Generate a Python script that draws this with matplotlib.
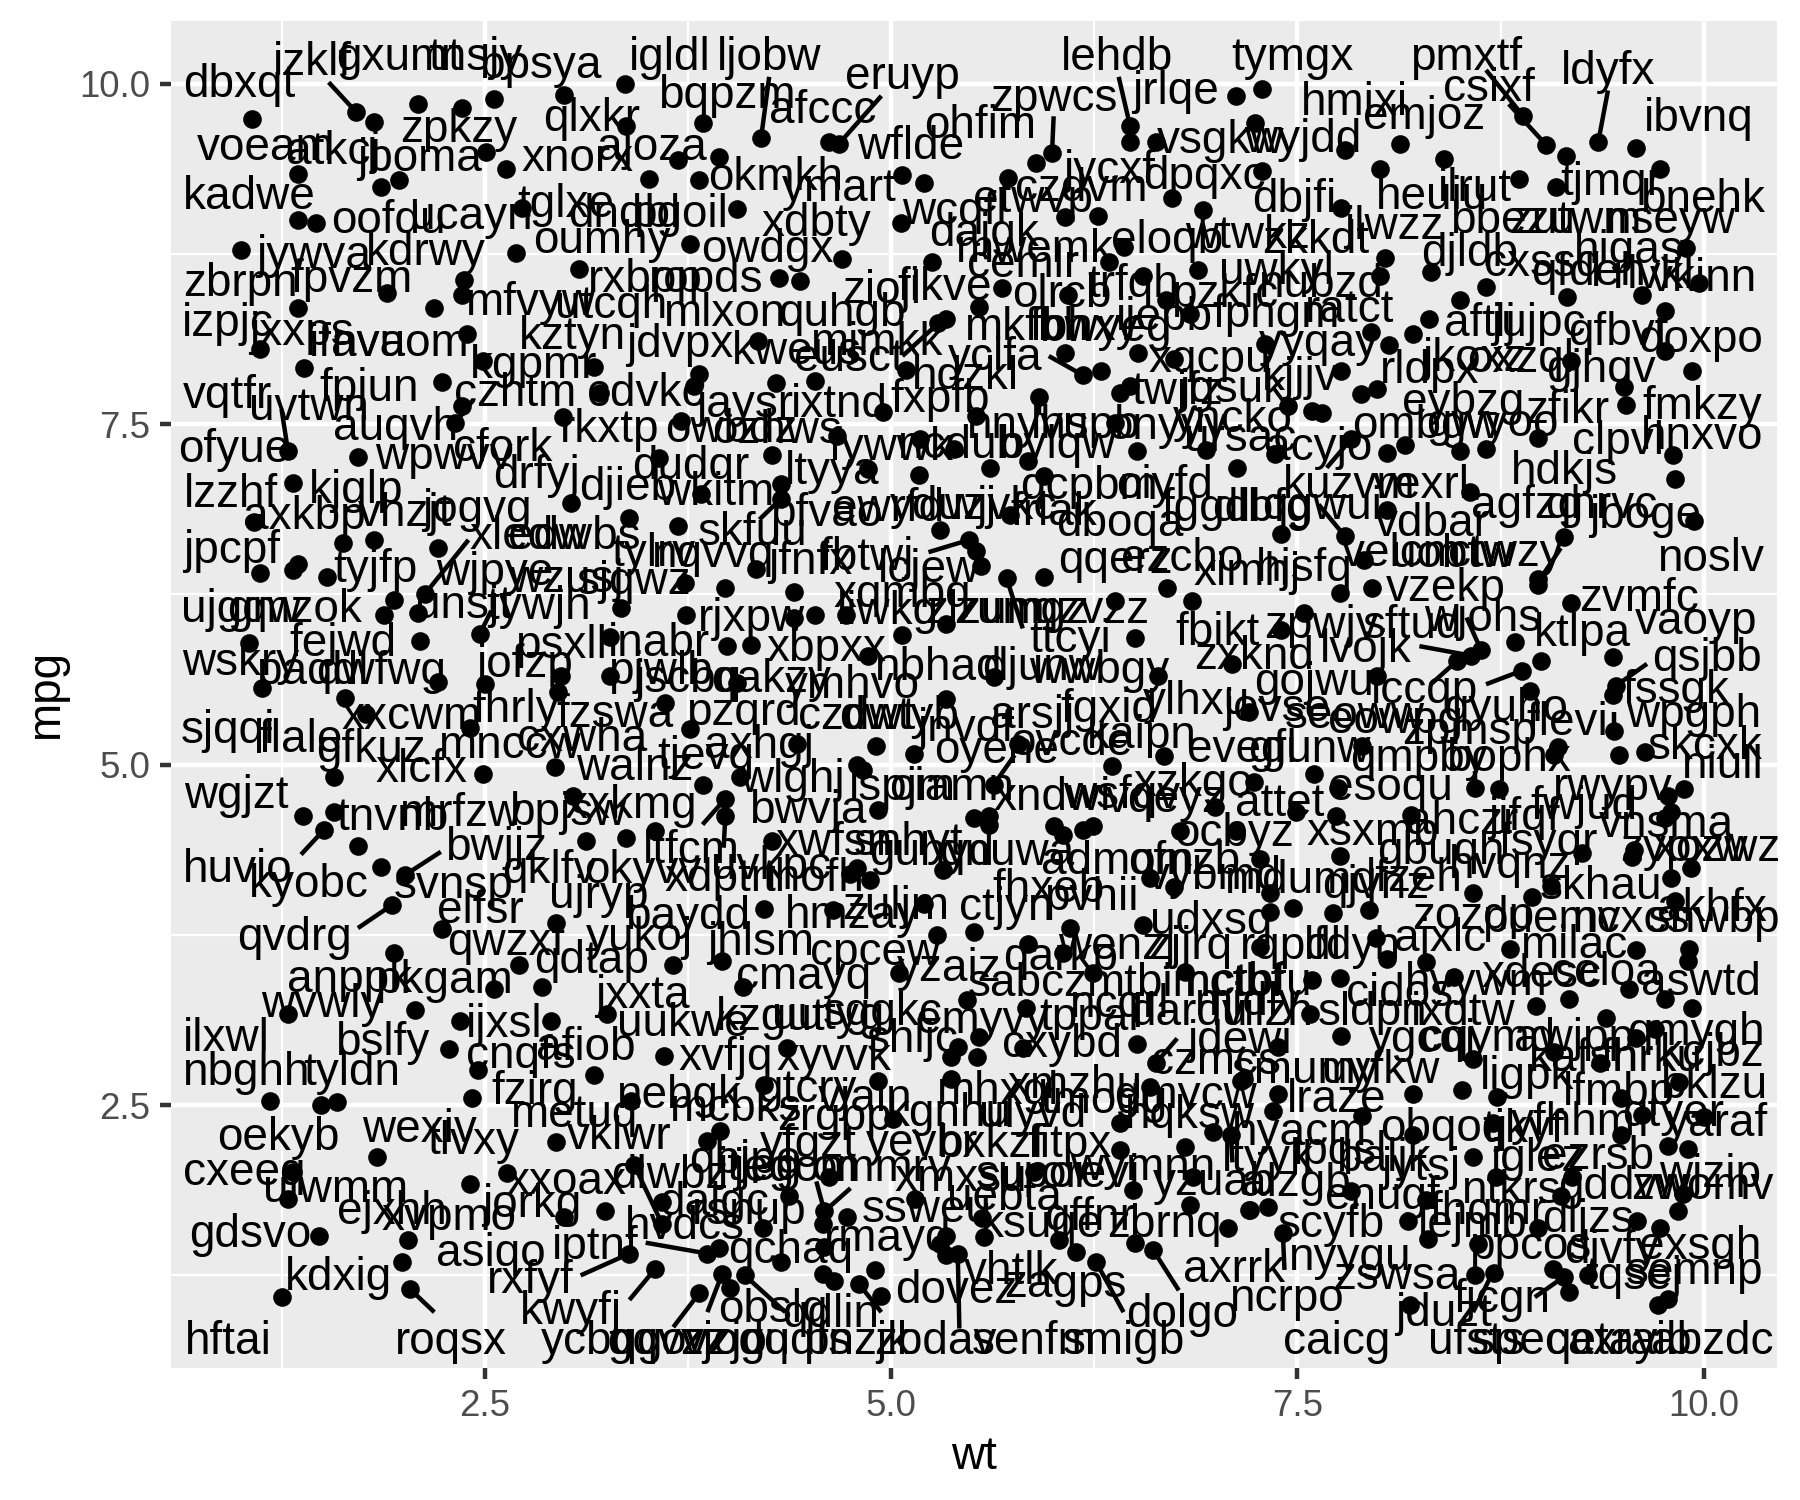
import matplotlib
matplotlib.use("Agg")
import matplotlib.pyplot as plt

plt.rcParams['font.family'] = ['Liberation Sans', 'DejaVu Sans']

# points (wt, mpg)
points_top = [
    (1.07,9.74),(1.71,9.79),(1.82,9.72),(2.09,9.85),(2.36,9.82),(2.56,9.89),(2.99,9.92),(3.36,10.00),
    (3.37,9.69),(3.84,9.71),(1.35,9.34),(2.51,9.50),(2.63,9.37),(1.97,9.29),(1.86,9.24),(3.51,9.30),
    (3.69,9.44),(3.94,9.46),(3.82,9.29),(1.35,9.00),(1.46,8.98),(2.73,9.09),(3.76,8.82),(1.00,8.78),
    (2.69,8.76),(3.08,8.64),(2.37,8.56),(2.36,8.45),(1.90,8.46),(2.19,8.35),(1.35,8.35),(2.39,8.16),
    (1.12,8.05),(2.49,7.96),(1.39,7.91),(3.17,7.92),(3.82,7.87),(3.79,7.78),(2.24,7.81),(3.21,7.73),
    (2.36,7.63),(2.32,7.51),(2.98,7.55),(3.71,7.52),(1.29,7.30),(1.72,7.26),(3.57,7.25),(1.32,7.07),
    (4.20,9.60),(4.62,9.57),(4.68,9.56),(5.07,9.33),(5.20,9.27),(4.05,9.08),(5.06,8.98),(5.99,9.49),
    (5.89,9.42),(5.72,9.31),(6.47,9.69),(6.47,9.57),(6.63,9.57),(7.12,9.91),(7.28,9.96),(7.24,9.71),
    (6.73,9.16),(6.92,9.07),(6.07,9.02),(6.27,9.03),(6.43,8.80),(6.34,8.69),(6.89,8.63),(5.25,8.69),
    (4.70,8.71),(4.31,8.57),(4.44,8.55),(5.68,8.50),(6.09,8.45),(6.55,8.59),(5.54,8.36),(6.69,8.41),
    (6.84,8.31),(5.34,8.27),(5.29,8.24),(4.18,8.11),(6.07,8.02),(6.52,8.02),(6.74,7.98),(5.09,7.90),
    (6.18,7.86),(6.29,7.89),(4.29,7.80),(4.53,7.82),(6.47,7.78),(6.41,7.73),(5.91,7.70),(4.95,7.59),
    (5.52,7.56),(6.38,7.51),(4.67,7.41),(5.18,7.39),(5.39,7.32),(5.84,7.23),(6.51,7.30),(6.94,7.31),
    (4.27,7.27),(4.86,7.17),(5.61,7.18),(5.17,7.13),(5.94,7.12),(7.13,7.18),(4.32,7.06),(4.32,6.95),
    (7.28,9.36),(7.79,9.51),(8.13,9.56),(8.40,9.45),(8.01,9.37),(8.89,9.76),(9.03,9.55),(9.15,9.47),
    (9.35,9.57),(9.58,9.53),(9.73,9.37),(8.86,9.30),(9.09,9.24),(7.77,9.09),(9.89,8.79),(8.04,8.72),
    (8.01,8.59),(8.32,8.62),(8.66,8.51),(8.50,8.41),(9.16,8.43),(9.62,8.45),(9.97,8.54),(9.76,8.33),
    (8.31,8.27),(8.21,8.16),(7.95,8.18),(8.06,8.08),(7.30,8.09),(9.76,8.04),(9.18,7.96),(9.93,7.89),
    (7.77,7.89),(7.99,7.76),(7.89,7.72),(9.51,7.77),(9.52,7.64),(7.44,7.63),(7.59,7.60),(7.65,7.58),
    (7.83,7.39),(8.16,7.35),(7.36,7.28),(8.05,7.29),(8.50,7.30),(8.66,7.32),(8.98,7.40),(9.81,7.27),
    (9.82,7.10),(8.56,7.00),
]

points_mid = [
    (3.03,6.92),(3.83,6.99),(1.08,6.78),(3.39,6.81),(3.69,6.75),(1.63,6.63),(1.82,6.65),(2.21,6.59),
    (1.12,6.41),(1.35,6.47),(1.32,6.43),(1.53,6.38),(3.73,6.33),(3.98,6.30),(1.94,6.21),(2.13,6.25),
    (1.88,6.10),(2.09,6.11),(3.34,6.15),(3.74,6.10),(1.05,5.89),(2.10,5.91),(2.47,5.96),(3.27,5.94),
    (3.99,5.87),(2.21,5.61),(1.13,5.56),(2.50,5.59),(2.97,5.65),(2.95,5.53),(3.27,5.65),(1.64,5.49),
    (1.77,5.37),(2.41,5.27),(3.61,5.45),(3.76,5.26),(2.93,4.98),(1.57,4.91),(2.49,4.93),(3.84,4.85),
    (3.04,4.77),(1.38,4.62),(1.57,4.65),(1.51,4.52),(3.98,4.75),(3.98,4.62),(1.72,4.40),(3.12,4.44),
    (3.37,4.46),(3.55,4.51),(1.86,4.25),(2.01,4.19),(1.93,3.97),(2.94,3.84),(2.24,3.79),
    (5.73,6.83),(5.30,6.72),(5.48,6.65),(5.52,6.57),(5.55,6.46),(4.17,6.44),(5.71,6.37),(5.94,6.38),
    (4.40,6.27),(6.70,6.30),(6.85,6.20),(6.38,6.20),(4.53,6.10),(4.40,6.08),(4.72,6.10),(5.34,6.03),
    (5.07,5.95),(6.50,5.93),(4.14,5.88),(4.86,5.80),(5.63,5.64),(7.10,5.74),(6.64,5.65),(4.05,5.60),
    (5.34,5.48),(4.91,5.14),(5.14,5.08),(4.42,5.15),(5.78,5.15),(6.68,5.06),(6.36,4.99),(4.79,5.00),
    (4.83,4.96),(5.63,4.85),(4.07,4.91),(4.92,4.67),(5.51,4.61),(5.60,4.62),(5.60,4.56),(6.00,4.55),
    (6.06,4.48),(6.18,4.52),(6.24,4.55),(6.78,4.51),(6.99,4.69),(4.27,4.44),(4.79,4.24),(4.75,4.20),
    (4.87,4.15),(5.32,4.23),(6.59,4.17),(6.74,4.10),(4.22,3.94),(4.64,3.93),(5.20,3.98),(6.10,3.80),
    (6.55,3.82),
    (9.94,6.79),(8.05,6.87),(7.40,6.69),(7.79,6.68),(9.14,6.67),(7.91,6.50),(8.98,6.36),(8.98,6.32),
    (7.96,6.30),(7.76,6.26),(9.18,6.19),(7.54,6.11),(7.40,5.99),(8.84,5.90),(8.63,5.84),(8.57,5.80),
    (8.48,5.76),(9.44,5.79),(9.00,5.76),(8.88,5.69),(7.99,5.65),(9.46,5.58),(9.44,5.51),(8.93,5.54),
    (7.20,5.39),(9.45,5.25),(7.90,5.14),(9.10,5.13),(9.08,5.07),(9.48,5.07),(9.64,5.09),(7.60,4.93),
    (7.23,4.87),(7.75,4.83),(8.59,4.83),(8.74,4.82),(9.88,4.82),(9.78,4.77),(7.49,4.65),(7.74,4.62),
    (8.20,4.63),(9.80,4.65),(9.76,4.61),(7.12,4.51),(9.25,4.35),(9.57,4.37),(9.56,4.32),(7.27,4.31),
    (7.76,4.33),(9.92,4.24),(9.80,4.17),(7.33,4.06),(8.58,4.06),(8.94,4.03),(9.06,4.11),(7.33,3.92),
    (7.47,3.95),(7.72,3.91),(7.94,3.93),(9.82,4.00),
]

points_low = [
    (1.94,3.62),(2.71,3.53),(3.66,3.53),(3.96,3.56),(2.56,3.35),(2.85,3.37),(2.07,3.20),(1.29,3.17),
    (3.25,3.17),(2.35,3.12),(2.91,3.12),(2.28,2.91),(3.60,2.86),(2.46,2.76),(3.17,2.72),(2.42,2.55),
    (3.40,2.53),(1.18,2.53),(1.49,2.50),(1.59,2.52),(2.94,2.23),(3.87,2.24),(3.95,2.31),(1.84,2.12),
    (2.41,1.92),(2.64,2.00),(3.42,2.06),(1.32,2.01),(1.29,1.81),(2.99,1.68),(3.24,1.72),(3.59,1.79),
    (3.59,1.63),(1.48,1.54),(2.03,1.51),(1.99,1.35),(3.39,1.41),(3.55,1.30),(3.87,1.41),(3.94,1.45),
    (2.04,1.15),(1.25,1.09),(3.96,1.26),(3.82,1.12),
    (5.28,3.75),(5.51,3.77),(5.84,3.68),(6.06,3.62),(5.05,3.47),(6.24,3.47),(6.81,3.48),(4.09,3.37),
    (5.47,3.27),(5.83,3.21),(5.54,3.00),(5.41,2.93),(5.37,2.85),(5.53,2.85),(5.81,2.92),(4.36,2.92),
    (6.51,2.95),(6.63,2.81),(7.17,2.69),(4.22,2.65),(4.92,2.68),(5.37,2.69),(6.59,2.63),(6.41,2.37),
    (5.01,2.40),(6.98,2.30),(7.09,2.28),(6.41,2.17),(6.81,2.19),(5.88,2.01),(4.62,1.97),(6.86,1.97),
    (6.49,1.88),(4.37,1.83),(5.15,1.81),(6.84,1.77),(7.21,1.73),(4.59,1.72),(4.58,1.63),(4.73,1.68),
    (4.21,1.60),(5.56,1.67),(5.57,1.53),(5.34,1.54),(6.03,1.51),(6.50,1.49),(7.07,1.60),(6.61,1.44),
    (6.14,1.42),(6.26,1.35),(4.59,1.46),(5.30,1.48),(5.34,1.40),(5.41,1.41),(4.32,1.35),(4.90,1.29),
    (4.58,1.26),(4.65,1.21),(4.80,1.19),(4.94,1.10),(4.10,1.25),(4.01,1.16),
    (7.98,3.73),(7.27,3.66),(8.05,3.57),(8.29,3.55),(8.81,3.65),(9.58,3.64),(9.91,3.65),(9.90,3.56),
    (7.59,3.42),(7.76,3.43),(8.46,3.44),(9.54,3.35),(9.17,3.28),(9.76,3.28),(8.97,3.23),(9.93,3.21),
    (7.58,3.17),(9.40,3.14),(9.70,3.06),(7.77,3.01),(7.38,2.93),(9.58,2.99),(9.08,2.89),(8.58,2.84),
    (9.36,2.81),(7.15,2.68),(9.85,2.67),(7.38,2.58),(8.21,2.58),(8.51,2.61),(8.73,2.56),(9.49,2.55),
    (7.35,2.46),(7.90,2.42),(9.62,2.43),(10.00,2.41),(8.70,2.37),(8.21,2.28),(9.49,2.28),(9.78,2.20),
    (9.90,2.18),(8.58,2.12),(8.72,1.97),(9.19,1.97),(9.12,1.83),(9.87,1.85),(7.83,1.87),(8.29,1.80),
    (9.84,1.72),(7.20,1.73),(7.32,1.75),(8.18,1.65),(7.41,1.56),(8.30,1.52),(8.98,1.60),(9.59,1.65),
    (9.73,1.60),(8.61,1.48),(9.07,1.30),(9.14,1.24),(9.29,1.25),(9.17,1.13),(8.59,1.25),(8.71,1.27),
    (8.19,1.03),(9.78,1.08),(9.72,1.03),
]

# label text, centre wt, baseline mpg
labels_top = [
    ("dbxqt",0.99,9.90),("izklf",1.44,10.06),("gxumt",1.97,10.10),("tnsjy",2.44,10.10),("bpsya",2.84,10.04),
    ("igldl",3.64,10.10),("bqpzm",3.99,9.82),("qlxkr",3.16,9.65),("voeam",1.15,9.44),("atkcj",1.57,9.41),
    ("jboma",2.10,9.36),("zpkzy",2.34,9.57),("xnorx",3.07,9.36),("ajoza",3.53,9.44),("kadwe",1.05,9.08),
    ("oofdu",1.91,8.90),("ucayn",2.42,8.93),("tglxe",3.00,9.02),("dnqbl",3.36,8.95),("bgoil",3.70,8.95),
    ("oumhy",3.22,8.76),("owdgx",4.24,8.69),("jywva",1.45,8.65),("kdrwy",2.14,8.67),("zbrpn",1.00,8.44),
    ("fpvzm",1.68,8.47),("rxbpp",3.49,8.47),("ropds",3.86,8.47),("mfvyw",2.78,8.30),("utcqh",3.28,8.28),
    ("mlxon",3.97,8.22),("izpjc",0.92,8.15),("jxxps",1.37,8.08),("ifavu",1.72,8.00),("nvaom",1.98,8.00),
    ("kztyn",3.04,8.05),("jdvpx",3.70,7.99),("kgpmr",2.80,7.84),("fpjun",1.79,7.67),("vqtfr",0.92,7.62),
    ("uvtwn",1.42,7.53),("czhtm",2.69,7.63),("cdvkc",3.49,7.63),("rkxtp",3.27,7.37),("auqvh",1.95,7.38),
    ("ofyue",0.96,7.22),("wpwvv",2.25,7.17),("cfork",2.61,7.23),("drfyj",2.82,7.03),("djieb",3.38,6.94),
    ("wkitm",3.92,6.91),("dudqr",3.77,7.10),("jaysr",4.10,7.55),("ixtnd",4.68,7.55),("owbdz",4.02,7.37),
    ("ozhws",4.30,7.36),("ltyya",4.64,7.06),("fywwk",5.00,7.24),("ncdub",5.42,7.25),("bylqw",6.02,7.25),
    ("nnyvu",5.84,7.40),("lhspb",6.20,7.40),("onyyy",6.70,7.39),("yncko",7.10,7.44),("twjfz",6.76,7.65),
    ("jgsuk",7.10,7.66),("fxpfb",5.30,7.59),("hdzkl",5.46,7.76),("yclfa",5.64,7.90),("mkfbh",5.83,8.12),
    ("fbhxy",6.19,8.12),("bwyeg",6.32,8.11),("olrcb",6.05,8.36),("trfqh",6.49,8.43),("ijepb",6.68,8.19),
    ("pzkfc",7.05,8.36),("fphgm",7.37,8.21),("ratct",7.82,8.25),("xqcpu",6.96,7.88),("yyqay",7.63,8.00),
    ("kjjjv",7.52,7.75),("uwkyl",7.37,8.53),("nubzd",7.64,8.43),("wtwkz",7.19,8.79),("zkkdt",7.61,8.76),
    ("eloqb",6.70,8.76),("dpqxc",6.93,9.23),("jycxf",6.34,9.27),("czdvm",6.17,9.14),("etwvp",5.87,9.06),
    ("wcqfl",5.39,8.97),("dajgk",5.57,8.81),("mwemk",5.88,8.69),("cemlr",5.81,8.58),("ziojl",4.94,8.39),
    ("fikve",5.33,8.41),("quhgb",4.70,8.22),("mjmkk",4.91,8.01),("kweus",4.42,7.94),("eusct",4.74,7.89),
    ("wflde",5.12,9.45),("ohfim",5.55,9.60),("zpwcs",6.00,9.80),("jrlqe",6.75,9.85),("lehdb",6.39,10.10),
    ("vsgkw",7.03,9.49),("wyjdd",7.53,9.50),("hmixi",7.85,9.77),("emjoz",8.28,9.67),("csixf",8.68,9.87),
    ("pmxtf",8.54,10.10),("tymgx",7.47,10.10),("ldyfx",9.41,10.00),("ibvnq",9.97,9.65),("dbjfi",7.48,9.06),
    ("heuiu",8.33,9.08),("ilrut",8.59,9.14),("tjmqr",9.43,9.18),("bnehk",9.99,9.06),("jlwzz",8.09,8.86),
    ("bbezu",8.82,8.90),("zutwm",9.21,8.90),("nseyw",9.79,8.90),("djldb",8.56,8.66),("cxssq",9.01,8.59),
    ("higas",9.54,8.68),("qfdeh",9.29,8.52),("rlvkl",9.69,8.50),("vkinn",10.00,8.48),("aftlj",8.62,8.15),
    ("jujpc",8.98,8.15),("qfbvf",9.47,8.08),("doxpo",9.98,8.03),("jkoxz",8.59,7.89),("rldpx",8.31,7.80),
    ("oxzql",8.87,7.88),("gjhqv",9.37,7.81),("eybzg",8.52,7.57),("zfikr",9.16,7.51),("fmkzy",9.99,7.54),
    ("ombgw",8.29,7.40),("gwyoo",8.70,7.41),("clpvl",9.47,7.28),("hnxvo",9.99,7.32),("hdkjs",9.14,7.06),
    ("acyjo",7.63,7.24),("ursac",7.15,7.30),("ljobw",4.25,10.10),("eruyp",5.07,9.96),("afccc",4.58,9.71),
    ("okmkh",4.29,9.22),("ymart",4.68,9.14),("xdbty",4.54,8.88),
]

labels_mid = [
    ("kuzvm",7.82,6.96),("vexrl",8.26,6.96),("agfzg",8.91,6.81),("qhrvc",9.37,6.81),("jboge",9.64,6.74),
    ("noslv",10.04,6.42),("vdbar",8.33,6.68),("velcm",8.14,6.46),("uobtw",8.45,6.45),("ctwzy",8.78,6.46),
    ("vzekp",8.41,6.20),("hjsfq",7.54,6.35),("ximhj",7.19,6.32),("fggdl",6.97,6.79),("dlbfg",7.28,6.79),
    ("qgwui",7.65,6.80),("qcpbm",6.22,6.95),("oiyfd",6.68,6.96),("dboqa",6.41,6.68),("frlak",6.00,6.76),
    ("ewrfd",4.98,6.79),("yduzj",5.32,6.80),("wjvkc",5.67,6.80),("pfvao",4.60,6.75),("skfuu",4.15,6.61),
    ("jfnfx",4.50,6.40),("fbtwj",4.85,6.43),("lcjew",5.23,6.34),("qqerz",6.38,6.41),("ezcho",6.79,6.42),
    ("xqmbq",5.07,6.16),("liwkg",4.98,6.03),("rjxpw",4.14,5.98),("zumgz",5.80,6.04),("zlzum",5.58,6.04),
    ("qzvzz",6.23,6.04),("ttcyi",6.10,5.83),("xbpxx",4.60,5.76),("nbhad",5.29,5.62),("djunw",5.93,5.62),
    ("wwbgy",6.28,5.60),("ymhvo",4.76,5.49),("qakzy",4.26,5.53),("fbikt",7.01,5.88),("zxknd",7.23,5.70),
    ("zpwjv",7.65,5.93),("sftud",8.21,5.93),("wjohs",8.64,5.98),("lvojk",7.92,5.75),("ktlpa",9.25,5.87),
    ("zvmfc",9.60,6.13),("vaoyp",9.95,5.96),("qsjbb",10.02,5.69),("fssgk",9.83,5.45),("wpgph",9.94,5.28),
    ("skcxk",10.01,5.04),("niull",10.11,4.90),("gojwu",7.60,5.51),("lccqp",8.28,5.45),("jovse",7.37,5.32),
    ("seoww",7.85,5.27),("eowpg",8.10,5.23),("qyuho",8.78,5.32),("zpmsp",8.56,5.15),("flevi",9.16,5.22),
    ("gfunw",7.57,5.02),("evegl",7.16,5.02),("qmpby",8.25,4.95),("bophx",8.80,4.95),("esoqu",8.07,4.74),
    ("attet",7.39,4.62),("xzkgo",6.86,4.77),("xndwi",5.99,4.67),("wsfqv",6.42,4.68),("vqeyz",6.69,4.65),
    ("rwypv",9.44,4.74),("jifqf",8.89,4.52),("fwjud",9.26,4.60),("ahczr",8.51,4.49),("xsxmb",7.96,4.41),
    ("ocbyz",7.11,4.40),("fsyqr",9.04,4.34),("vnsma",9.77,4.47),("zypxw",9.88,4.29),("xozwz",10.08,4.29),
    ("gbuqh",8.38,4.27),("hvqnz",8.81,4.17),("lfzeh",8.22,4.07),("qjvnz",7.98,4.02),("vybmd",6.99,4.09),
    ("mdumq",7.52,4.06),("skhau",9.37,4.01),("akhfx",10.05,3.85),("zozdp",8.58,3.79),("puemc",9.06,3.77),
    ("nvxcs",9.55,3.77),("snwbp",10.06,3.77),("lzzhf",0.94,6.89),("kjglp",1.71,6.92),("axkbp",1.39,6.73),
    ("vhzjt",2.01,6.75),("jogvg",2.45,6.78),("xledw",2.77,6.58),("edwbs",3.05,6.58),("jpcpf",0.94,6.48),
    ("tyjfp",1.83,6.34),("wjpye",2.56,6.32),("wzusj",3.00,6.27),("sjqwz",3.42,6.25),("tylrv",3.54,6.46),
    ("nqvvq",3.90,6.45),("ujgqw",1.00,6.05),("gmzok",1.33,6.05),("unsjt",2.37,6.08),("tywjh",2.83,6.07),
    ("fejwd",1.63,5.80),("wskry",1.00,5.66),("paqdl",1.44,5.59),("dwfwg",1.86,5.59),("iofzp",2.75,5.64),
    ("psxll",2.97,5.78),("inabr",3.57,5.80),("pjwlb",3.58,5.59),("jscbq",3.75,5.53),("xxcwm",2.05,5.26),
    ("fhrly",2.69,5.31),("fzswa",3.30,5.28),("pzqrd",4.09,5.29),("czdwt",4.79,5.26),("dwtyb",5.05,5.26),
    ("jnvdf",5.46,5.17),("oyene",5.65,5.01),("arsjj",5.87,5.27),("fgxid",6.34,5.31),("ylhxu",6.88,5.37),
    ("ovcde",6.11,5.07),("kaipn",6.54,5.12),("axhgj",4.19,5.05),("tjevq",3.86,4.97),("wlghj",4.39,4.80),
    ("lspjm",5.07,4.74),("oiamn",5.37,4.74),("bwvja",4.49,4.57),("xwfsn",4.65,4.34),("snhyt",5.11,4.34),
    ("guhyd",5.25,4.26),("qnuwa",5.71,4.26),("admom",6.39,4.20),("qfnzb",6.80,4.20),("fhxeb",5.97,3.99),
    ("pvhii",6.23,3.93),("ctjyn",5.71,3.86),("zuljm",5.03,3.87),("udxsq",6.97,3.76),("uvkpc",4.26,4.16),
    ("xdptn",3.95,4.07),("thofh",4.52,4.07),("baydd",3.75,3.79),("ujryp",3.20,3.95),("okyvv",3.47,4.13),
    ("qklfv",2.90,4.13),("elfsr",2.47,3.84),("svnsp",2.31,4.02),("kyobc",1.42,4.03),("huvio",0.98,4.14),
    ("bwjjz",2.57,4.30),("ltfcm",3.77,4.28),("tnvnb",1.93,4.52),("mrfzw",2.35,4.55),("bpjsw",3.01,4.56),
    ("xxkmg",3.40,4.61),("wgjzt",0.97,4.68),("xlcfx",2.11,4.87),("mnccw",2.65,5.05),("cxwha",3.10,5.10),
    ("walnz",3.42,4.89),("gfkuz",1.80,5.02),("sjqqi",0.92,5.16),("flale",1.37,5.09),
]

labels_low = [
    ("milac",9.20,3.58),("ajxlc",8.38,3.63),("rqpdl",7.46,3.57),("lfdyh",7.84,3.57),("ctbfu",7.28,3.31),
    ("hvywm",8.60,3.31),("xdesc",9.00,3.37),("celoa",9.40,3.38),("aswtd",9.98,3.31),("cidos",8.13,3.23),
    ("ixdtw",8.52,3.09),("sldpn",7.96,3.09),("vilzh",7.32,3.09),("ygcqj",8.27,2.89),("cqymd",8.67,2.90),
    ("awjpp",9.20,2.90),("qmygh",9.95,2.94),("kcjbz",10.05,2.79),("fhrku",9.68,2.75),("kafsh",9.26,2.75),
    ("ligpk",8.91,2.62),("lfmbp",9.48,2.50),("bklzu",10.06,2.55),("smumy",7.55,2.66),("uyfkw",8.01,2.66),
    ("lraze",7.74,2.45),("hyacm",7.51,2.21),("obqoq",8.40,2.24),("tjkyf",8.89,2.23),("yfhhm",9.20,2.28),
    ("qtyer",9.81,2.35),("yaraf",10.08,2.27),("ltyyk",7.32,2.02),("ipqsl",7.76,2.07),("baljk",8.03,2.02),
    ("jytsj",8.26,1.95),("iglez",8.98,2.02),("ezrsb",9.35,2.03),("wjzip",10.04,1.90),("gddvw",9.51,1.81),
    ("zwomv",9.99,1.81),("ntkrs",8.81,1.78),("enugf",8.02,1.74),("alzgb",7.49,1.83),("fhqmr",8.67,1.63),
    ("lejmb",8.58,1.53),("dljzs",9.29,1.57),("scyfb",7.71,1.53),("ppcos",8.93,1.37),("djvfy",9.43,1.34),
    ("exsgh",9.98,1.37),("tqsej",9.57,1.15),("semnp",9.94,1.19),("nyygu",7.82,1.29),("zswsa",8.11,1.15),
    ("fjcgn",8.76,0.98),("jduzt",8.40,0.88),("ncrpo",7.43,0.99),("axrrk",7.11,1.20),("caicg",7.74,0.67),
    ("ufsts",8.60,0.67),("speca",8.95,0.67),("qetay",9.37,0.67),("xraib",9.62,0.67),("abzdc",10.05,0.67),
    ("hmzay",4.76,3.80),("jhlsm",4.20,3.60),("cpcew",4.90,3.53),("cmayq",4.46,3.35),("yzaiz",5.36,3.41),
    ("qarkp",6.04,3.49),("sabcz",5.84,3.30),("mtbim",6.58,3.30),("nctbf",7.11,3.30),("wenzj",6.39,3.57),
    ("zjjrq",6.84,3.57),("ncqrl",6.40,3.15),("dardu",6.83,3.09),("midly",7.19,3.16),("tppal",6.22,3.05),
    ("emyvy",5.56,3.03),("jdewi",7.14,2.88),("czmcs",7.00,2.73),("cxybd",6.05,2.85),("shljc",5.13,2.89),
    ("kzgut",4.26,3.05),("uutyg",4.61,3.06),("sggkc",4.95,3.09),("uukwe",3.72,3.01),("xyvvk",4.65,2.76),
    ("xvfjq",3.98,2.76),("gtcry",4.48,2.52),("vjain",4.84,2.46),("mhxgl",5.65,2.51),("xmzhu",6.13,2.55),
    ("tmodg",6.31,2.44),("gmycw",6.81,2.48),("hqksw",6.84,2.33),("kgnhu",5.36,2.35),("ulyvd",5.87,2.34),
    ("mcbks",4.04,2.38),("zrgpp",4.65,2.32),("nebgk",3.69,2.48),("metuq",3.05,2.34),("vklwr",3.33,2.18),
    ("fzirg",2.81,2.51),("yfgzt",4.49,2.12),("yevbr",5.19,2.13),("bxkzf",5.61,2.12),("fitpx",6.10,2.12),
    ("wymnn",6.55,1.95),("yzuab",6.99,1.84),("xmxsu",5.43,1.87),("supor",5.87,1.90),("orevj",6.22,1.90),
    ("ommrv",4.94,1.94),("dlwbz",3.64,1.89),("qbjpe",4.10,2.00),("jtjeg",4.19,1.95),("jegom",4.41,1.94),
    ("dalgc",3.91,1.69),("hvdcs",3.73,1.52),("rsnup",4.13,1.63),("qchaq",4.38,1.34),("rmayd",4.98,1.43),
    ("dovez",5.40,1.05),("vhtlk",5.74,1.19),("zagps",6.07,1.09),("uebta",5.70,1.73),("ssweu",5.22,1.64),
    ("ksuqe",5.93,1.53),("qffnr",6.22,1.58),("zbrnq",6.68,1.53),("dolgo",6.79,0.87),("smigb",6.43,0.67),
    ("senfm",5.88,0.67),("zbdav",5.27,0.67),("gudfs",4.41,0.67),("pnzjk",4.79,0.67),
    ("obslq",4.27,0.91),("qdlin",4.63,0.87),("ycbqg",3.22,0.67),("gqvvz",3.62,0.67),("ovzjo",3.91,0.67),
    ("zjodq",4.04,0.67),("qvdrg",1.33,3.64),("qwzxf",2.63,3.60),("yukoj",3.45,3.64),("qdtap",3.16,3.47),
    ("anppk",1.67,3.33),("pkgam",2.25,3.32),("wvwly",1.50,3.15),("ijxsl",2.62,3.00),("jxxta",3.47,3.21),
    ("ilxwl",0.91,2.90),("bslfy",1.87,2.87),("afiob",3.12,2.83),("cnqfs",2.72,2.77),("nbghh",1.03,2.65),
    ("tyldn",1.68,2.65),("oekyb",1.23,2.17),("wexiv",2.10,2.23),("tlvxy",2.43,2.14),("xxoax",3.00,1.85),
    ("cxeeq",1.02,1.91),("uiwmm",1.58,1.79),("ejxhh",1.93,1.63),("xvpmo",2.28,1.58),("jorkg",2.79,1.68),
    ("gdsvo",1.06,1.46),("asiqo",2.54,1.32),("iptnf",3.18,1.37),("kdxig",1.60,1.14),("rxfyf",2.78,1.12),
    ("kwyfj",3.03,0.89),("hftai",0.92,0.67),("roqsx",2.29,0.67),
]

# leader lines: point wt, point mpg, end wt, end mpg
leaders = [
    (1.71,9.79,1.54,10.01),(1.29,7.30,1.25,7.61),(2.32,7.51,2.43,7.68),(4.20,9.60,4.25,10.05),
    (4.68,9.56,4.94,9.91),(5.99,9.49,6.00,9.76),(6.47,9.69,6.40,10.05),(9.03,9.55,8.80,9.85),
    (8.89,9.76,8.66,10.10),(9.35,9.57,9.41,9.95),(5.29,8.24,5.07,8.00),(6.18,7.86,5.97,8.00),
    (7.83,7.39,7.68,7.18),(4.32,6.95,4.19,6.80),(7.79,6.68,7.63,6.91),(5.48,6.65,5.23,6.56),
    (5.71,6.37,5.81,6.00),(2.13,6.25,2.40,6.65),(2.47,5.96,2.54,6.13),(8.98,6.34,9.12,6.59),
    (8.63,5.84,8.54,6.08),(8.57,5.80,8.25,5.87),(8.48,5.76,8.32,5.59),(8.88,5.69,8.66,5.59),
    (9.46,5.58,9.65,5.74),(9.45,5.25,9.45,5.39),(8.59,4.83,8.59,4.95),(5.63,4.85,5.76,5.07),
    (3.98,4.75,3.84,4.56),(3.98,4.62,3.97,4.39),(1.51,4.52,1.37,4.34),(2.01,4.19,2.23,4.36),
    (1.93,3.97,1.72,3.80),(2.04,1.15,2.19,0.98),(3.55,1.30,3.39,1.07),(3.39,1.41,3.09,1.25),
    (3.87,1.41,3.49,1.49),(3.42,2.06,3.59,1.63),(3.82,1.12,3.66,0.87),(3.96,1.26,3.87,0.98),
    (4.10,1.25,4.35,0.98),(4.80,1.19,4.94,0.98),(4.59,1.72,4.54,1.94),(4.59,1.72,4.75,1.89),
    (5.41,1.41,5.42,0.86),(6.26,1.35,6.43,0.98),(6.61,1.44,6.77,1.14),(7.41,1.56,7.42,1.29),
    (9.14,1.24,8.96,1.09),(8.68,1.22,8.58,0.98),(5.91,7.70,5.91,7.57),(6.63,2.81,6.76,2.99),
    (7.09,2.28,7.10,2.08),
]

major_ticks = [2.5, 5.0, 7.5, 10.0]
minor_ticks = [1.25, 3.75, 6.25, 8.75]

wt, mpg = zip(*(points_top + points_mid + points_low))
label_text, label_wt, label_mpg = zip(*(labels_top + labels_mid + labels_low))

fig = plt.figure(figsize=(6, 5), dpi=300)
ax = fig.add_axes([171/1800, 1-1368/1500, (1777-171)/1800, (1368-21)/1500])
ax.set_facecolor('#EBEBEB')
for s in ax.spines.values():
    s.set_visible(False)

ax.set_xlim(0.57, 10.45)
ax.set_ylim(0.57, 10.46)
ax.set_xticks(major_ticks)
ax.set_yticks(major_ticks)
ax.set_xticks(minor_ticks, minor=True)
ax.set_yticks(minor_ticks, minor=True)
ax.set_axisbelow(True)
ax.grid(which='major', color='white', lw=1.07)
ax.grid(which='minor', color='white', lw=0.53)
ax.tick_params(which='major', length=2.75, width=1.07, color='#333333', labelcolor='#4D4D4D', labelsize=8.8, pad=2.2)
ax.tick_params(which='minor', length=0)
ax.set_xlabel('wt', fontsize=11, labelpad=2.75)
ax.set_ylabel('mpg', fontsize=11, labelpad=2.75)

ax.scatter(wt, mpg, s=20, c='black', linewidths=0, zorder=3)
for x0, y0, x1, y1 in leaders:
    ax.plot([x0, x1], [y0, y1], color='black', lw=1.07, solid_capstyle='butt', zorder=3)
for name, x, y in zip(label_text, label_wt, label_mpg):
    ax.text(x, y, name, fontsize=11, ha='center', va='baseline', color='black', zorder=4)

fig.savefig('out.png')
